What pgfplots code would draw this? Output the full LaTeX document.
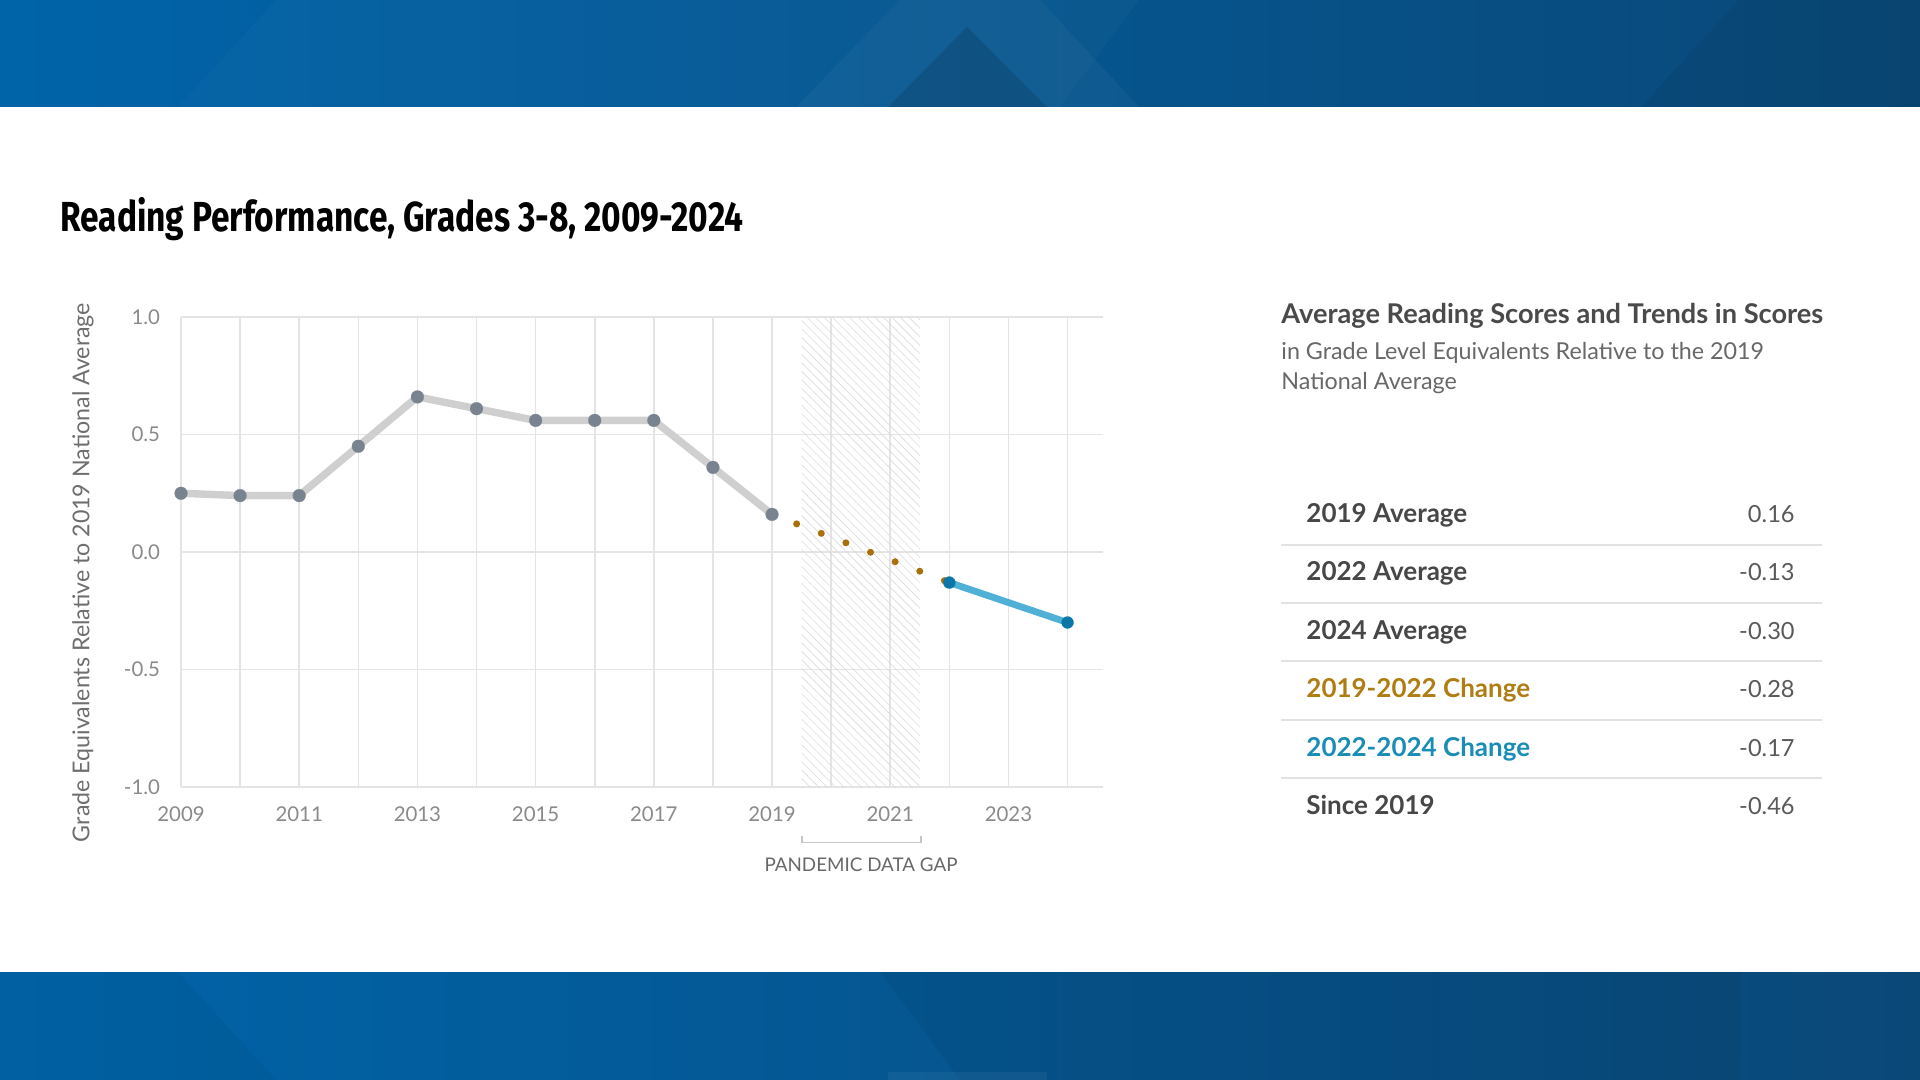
\documentclass[border=0pt]{standalone}
\usepackage{fontspec}
\usepackage{graphicx}
\usepackage{pgfplots}
\pgfplotsset{compat=1.18}
\usetikzlibrary{patterns.meta}
\setmainfont{Lato}
\newfontfamily\titlefont{Fira Sans}

\definecolor{bandL}{HTML}{0064A9}
\definecolor{bandR}{HTML}{0A4878}
\definecolor{titlec}{HTML}{18233F}
\definecolor{gridc}{HTML}{E4E4E4}
\definecolor{hatchc}{HTML}{DCDCDC}
\definecolor{tickc}{HTML}{8A8A8A}
\definecolor{ylabc}{HTML}{6E6E6E}
\definecolor{grayline}{HTML}{CFCFCF}
\definecolor{graymark}{HTML}{78838F}
\definecolor{goldc}{HTML}{A8700A}
\definecolor{blueline}{HTML}{50B0D6}
\definecolor{bluemark}{HTML}{0B76A8}
\definecolor{headc}{HTML}{4A4A4A}
\definecolor{subc}{HTML}{686868}
\definecolor{rowc}{HTML}{474747}
\definecolor{valc}{HTML}{5A5A5A}
\definecolor{goldtxt}{HTML}{B07D12}
\definecolor{bluetxt}{HTML}{1A8DB6}
\definecolor{rulec}{HTML}{E2E2E2}

% reading scores, grade equivalents relative to the 2019 national average
\pgfplotstableread{
year score
2009 0.25
2010 0.24
2011 0.24
2012 0.45
2013 0.66
2014 0.61
2015 0.56
2016 0.56
2017 0.56
2018 0.36
2019 0.16
}\pretrend
\pgfplotstableread{
year score
2022 -0.13
2024 -0.30
}\posttrend

\newsavebox\titlebox
\newcommand\rowlabel[4]{%
  \node[anchor=base west, inner sep=0pt, text=#2,
        font=\bfseries\fontsize{13}{15}\selectfont] at (1306,#1) {#3};
  \node[anchor=base east, inner sep=0pt, text=valc,
        font=\fontsize{11.8}{14}\selectfont] at (1795,#1) {#4};}

\begin{document}
\sbox\titlebox{\titlefont\bfseries\fontsize{21}{25}\selectfont Reading Performance, Grades 3-8, 2009-2024}%
\pgfmathsetmacro\titlesx{341.5pt/\wd\titlebox}%
\begin{tikzpicture}[x=0.5pt,y=-0.5pt]
\useasboundingbox (0,0) rectangle (1920,1080);
\fill[white] (0,0) rectangle (1920,1080);

% header and footer bands
\shade[left color=bandL, right color=bandR] (0,0) rectangle (1920,107);
\fill[white, opacity=0.025] (178,107) -- (276,0) -- (1139,0) -- (1060,107) -- cycle;
\fill[white, opacity=0.035] (796,107) -- (900,0) -- (1040,0) -- (1139,107) -- cycle;
\fill[black, opacity=0.12] (888,107) -- (967,27) -- (1047,107) -- cycle;
\fill[black, opacity=0.05] (1641,107) -- (1739,0) -- (1920,0) -- (1920,107) -- cycle;
\shade[left color=bandL, right color=bandR] (0,972) rectangle (1920,1080);
\fill[black, opacity=0.04] (178,972) -- (276,1080) -- (0,1080) -- (0,972) -- cycle;
\fill[black, opacity=0.05] (880,972) -- (960,1080) -- (1740,1080) -- (1741,972) -- cycle;
\fill[white, opacity=0.05] (888,1072) rectangle (1047,1080);

% title
\node[anchor=base west, inner sep=0pt, text=titlec] at (60,232)
  {\scalebox{\titlesx}[1]{\usebox\titlebox}};

\begin{axis}[
  at={(90.5pt,-393.5pt)}, anchor=south west,
  scale only axis, width=461pt, height=235pt,
  xmin=2009, xmax=2024.6, ymin=-1, ymax=1,
  axis line style={draw=none},
  xtick={2009,2011,2013,2015,2017,2019,2021,2023},
  xticklabels={2009,2011,2013,2015,2017,2019,2021,2023},
  minor xtick={2010,2012,2014,2016,2018,2020,2022,2024},
  ytick={-1,-0.5,0,0.5,1},
  yticklabels={-1.0,-0.5,0.0,0.5,1.0},
  grid=both,
  major grid style={draw=gridc, line width=0.8pt},
  minor grid style={draw=gridc, line width=0.8pt},
  major tick length=0pt, minor tick length=0pt,
  tick style={draw=none},
  xticklabel style={font=\fontsize{10.2}{12}\selectfont, text=tickc,
                    anchor=north, inner sep=0pt, yshift=-9.5pt},
  yticklabel style={font=\fontsize{10.2}{12}\selectfont, text=tickc,
                    anchor=east, inner sep=0pt, xshift=-10.3pt},
  clip=false,
]
% pandemic data gap
\fill[pattern={Lines[angle=-45,distance=3pt,line width=0.3pt]}, pattern color=hatchc]
  (axis cs:2019.5,-1) rectangle (axis cs:2021.5,1);
% 2019 to 2022 change
\addplot[goldc, line width=3.5pt, line cap=round, dash pattern=on 0pt off 13.19pt]
  coordinates {(2019,0.16) (2022,-0.13)};
% 2009 to 2019
\addplot[grayline, line width=3.7pt, line join=round,
  mark=*, mark size=3.2pt,
  mark options={solid, fill=graymark, draw=graymark, line width=0.1pt}]
  table[x=year, y=score] {\pretrend};
% 2022 to 2024 change
\addplot[blueline, line width=3.4pt,
  mark=*, mark size=3.0pt,
  mark options={solid, fill=bluemark, draw=bluemark, line width=0.1pt}]
  table[x=year, y=score] {\posttrend};
\end{axis}

% y axis label
\node[rotate=90, inner sep=0pt, text=ylabc, font=\fontsize{11.6}{13}\selectfont]
  at (83,572.5) {Grade Equivalents Relative to 2019 National Average};

% gap bracket
\draw[draw=gray!45, line width=0.6pt] (802,836) -- (802,842.5) -- (921,842.5) -- (921,836);
\node[text=subc, font=\fontsize{9.4}{11}\selectfont, inner sep=0pt] at (861,864.5)
  {PANDEMIC DATA GAP};

% summary panel
\node[anchor=base west, inner sep=0pt, text=headc, font=\bfseries\fontsize{13.6}{16}\selectfont]
  at (1281,324) {Average Reading Scores and Trends in Scores};
\node[anchor=base west, inner sep=0pt, text=subc, font=\fontsize{11.65}{14}\selectfont]
  at (1281,359.5) {in Grade Level Equivalents Relative to the 2019};
\node[anchor=base west, inner sep=0pt, text=subc, font=\fontsize{11.65}{14}\selectfont]
  at (1281,389) {National Average};

\rowlabel{522}{rowc}{2019 Average}{0.16}
\rowlabel{580.5}{rowc}{2022 Average}{-0.13}
\rowlabel{639}{rowc}{2024 Average}{-0.30}
\rowlabel{697.5}{goldtxt}{2019-2022 Change}{-0.28}
\rowlabel{756}{bluetxt}{2022-2024 Change}{-0.17}
\rowlabel{814.5}{rowc}{Since 2019}{-0.46}
\foreach \yy in {545,602.5,661,720,777.5}
  \draw[rulec, line width=1pt] (1281,\yy) -- (1822,\yy);
\end{tikzpicture}
\end{document}
